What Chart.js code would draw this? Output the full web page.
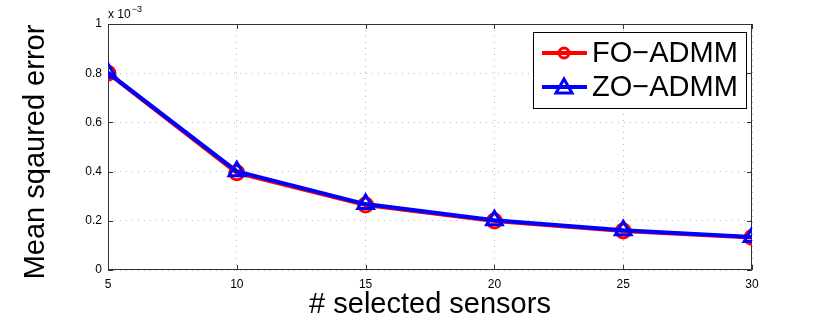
<!DOCTYPE html>
<html>
<head>
<meta charset="utf-8">
<script src="https://cdn.jsdelivr.net/npm/chart.js@4.4.0/dist/chart.umd.min.js"></script>
<style>
  html, body { margin: 0; padding: 0; background: #fff; }
  #wrap { width: 830px; height: 324px; }
</style>
</head>
<body>
<div id="wrap"><canvas id="mse-chart" width="830" height="324"></canvas></div>
<script>
// values (y in units of 1e-3)
const sensors = [5, 10, 15, 20, 25, 30];
const foAdmm = [0.800, 0.395, 0.264, 0.199, 0.159, 0.132];
const zoAdmm = [0.802, 0.401, 0.268, 0.202, 0.162, 0.134];
const yTicks = [0, 0.2, 0.4, 0.6, 0.8, 1];
const yTickLabels = ['0', '0.2', '0.4', '0.6', '0.8', '1'];
const seriesNames = ['FO\u2212ADMM', 'ZO\u2212ADMM'];

const FONT = '"Liberation Sans", Arial, Helvetica, sans-serif';
const RED = '#ff0000';
const BLUE = '#0000ff';

function toPoints(xs, ys) {
    return xs.map(function(x, i) { return {x: x, y: ys[i]}; });
}

// box, inward ticks, y title, exponent and legend, MATLAB style
const matlabExtras = {
    id: 'matlabExtras',
    beforeDatasetsDraw: function(chart) {
        const ctx = chart.ctx;
        const area = chart.chartArea;
        const xs = chart.scales.x;
        const ys = chart.scales.y;
        ctx.save();
        ctx.strokeStyle = '#333';
        ctx.lineWidth = 1;
        ctx.beginPath();
        ctx.rect(Math.round(area.left) + 0.5, Math.round(area.top) + 0.5,
            Math.round(area.right - area.left) - 1, Math.round(area.bottom - area.top) - 1);
        sensors.forEach(function(v) {
            const px = Math.round(xs.getPixelForValue(v)) + 0.5;
            ctx.moveTo(px, area.bottom);
            ctx.lineTo(px, area.bottom - 5);
            ctx.moveTo(px, area.top);
            ctx.lineTo(px, area.top + 5);
        });
        yTicks.forEach(function(v) {
            const py = Math.round(ys.getPixelForValue(v)) + 0.5;
            ctx.moveTo(area.left, py);
            ctx.lineTo(area.left + 5, py);
            ctx.moveTo(area.right, py);
            ctx.lineTo(area.right - 5, py);
        });
        ctx.stroke();
        ctx.restore();
    },
    afterDraw: function(chart) {
        const ctx = chart.ctx;
        const area = chart.chartArea;
        ctx.save();

        // y axis title, a bit below the plot centre like the original
        ctx.save();
        ctx.translate(36, (area.top + area.bottom) / 2 + 5);
        ctx.rotate(-Math.PI / 2);
        ctx.fillStyle = '#000';
        ctx.font = '29px ' + FONT;
        ctx.textAlign = 'center';
        ctx.textBaseline = 'middle';
        ctx.fillText('Mean sqaured error', 0, 0);
        ctx.restore();

        // exponent label
        ctx.fillStyle = '#000';
        ctx.textBaseline = 'alphabetic';
        ctx.textAlign = 'left';
        ctx.font = '12px ' + FONT;
        const ex = area.left;
        const ey = area.top - 6;
        ctx.fillText('x 10', ex, ey);
        const w = ctx.measureText('x 10').width;
        ctx.font = '9px ' + FONT;
        ctx.fillText('\u22123', ex + w + 1, ey - 6);

        // legend
        const bw = 213, bh = 76;
        const bx = area.right - 6 - bw;
        const by = area.top + 8;
        ctx.fillStyle = '#fff';
        ctx.fillRect(bx, by, bw, bh);
        ctx.strokeStyle = '#000';
        ctx.lineWidth = 1;
        ctx.strokeRect(bx + 0.5, by + 0.5, bw, bh);

        const rows = [
            {name: seriesNames[0], color: RED, marker: 'circle'},
            {name: seriesNames[1], color: BLUE, marker: 'triangle'}
        ];
        rows.forEach(function(r, i) {
            const cy = by + 21 + i * 34;
            ctx.strokeStyle = r.color;
            ctx.lineWidth = 4;
            ctx.beginPath();
            ctx.moveTo(bx + 9, cy);
            ctx.lineTo(bx + 54, cy);
            ctx.stroke();
            ctx.lineWidth = 3;
            ctx.beginPath();
            if (r.marker === 'circle') {
                ctx.arc(bx + 31, cy, 5, 0, Math.PI * 2);
            } else {
                ctx.moveTo(bx + 31, cy - 8);
                ctx.lineTo(bx + 39, cy + 6);
                ctx.lineTo(bx + 23, cy + 6);
                ctx.closePath();
            }
            ctx.stroke();
            ctx.fillStyle = '#000';
            ctx.font = '29px ' + FONT;
            ctx.textBaseline = 'middle';
            ctx.fillText(r.name, bx + 59, cy + 1);
        });
        ctx.restore();
    }
};

new Chart(document.getElementById('mse-chart'), {
    type: 'line',
    data: {
        datasets: [
            {
                label: seriesNames[0],
                data: toPoints(sensors, foAdmm),
                borderColor: RED,
                backgroundColor: 'rgba(0,0,0,0)',
                borderWidth: 4,
                pointStyle: 'circle',
                pointRadius: 7,
                pointBorderWidth: 3,
                pointBorderColor: RED,
                pointBackgroundColor: 'rgba(0,0,0,0)',
                order: 2
            },
            {
                label: seriesNames[1],
                data: toPoints(sensors, zoAdmm),
                borderColor: BLUE,
                backgroundColor: 'rgba(0,0,0,0)',
                borderWidth: 4,
                pointStyle: 'triangle',
                pointRadius: 9,
                pointBorderWidth: 3,
                pointBorderColor: BLUE,
                pointBackgroundColor: 'rgba(0,0,0,0)',
                order: 1
            }
        ]
    },
    options: {
        responsive: false,
        animation: false,
        layout: {
            padding: {top: 24, right: 78, left: 0, bottom: 0}
        },
        scales: {
            x: {
                type: 'linear',
                min: 5,
                max: 30,
                afterFit: function(scale) { scale.height = 54; },
                afterBuildTicks: function(scale) {
                    scale.ticks = sensors.map(function(v) { return {value: v}; });
                },
                grid: {
                    color: '#b8b8b8',
                    drawTicks: false
                },
                border: {display: false, dash: [1, 5]},
                ticks: {
                    padding: 7,
                    color: '#000',
                    font: {family: FONT, size: 12}
                },
                title: {
                    display: true,
                    text: '# selected sensors',
                    color: '#000',
                    font: {family: FONT, size: 29, lineHeight: 1},
                    padding: {top: 0, bottom: 5}
                }
            },
            y: {
                min: 0,
                max: 1,
                afterFit: function(scale) { scale.width = 108; },
                afterBuildTicks: function(scale) {
                    scale.ticks = yTicks.map(function(v) { return {value: v}; });
                },
                grid: {
                    color: '#b8b8b8',
                    drawTicks: false
                },
                border: {display: false, dash: [1, 5]},
                ticks: {
                    padding: 6,
                    color: '#000',
                    font: {family: FONT, size: 12},
                    callback: function(value) {
                        const i = yTicks.indexOf(value);
                        return i >= 0 ? yTickLabels[i] : '';
                    }
                }
            }
        },
        plugins: {
            legend: {display: false},
            tooltip: {enabled: false}
        }
    },
    plugins: [matlabExtras]
});
</script>
</body>
</html>
